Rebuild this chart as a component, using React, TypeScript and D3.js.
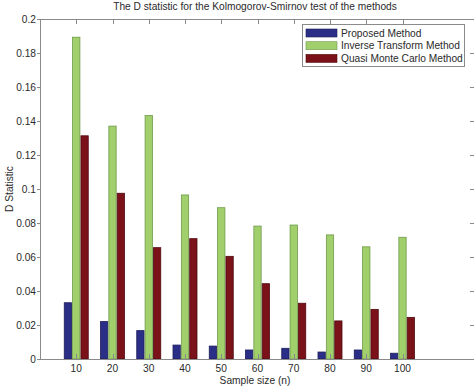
import React, { useEffect, useRef } from "react";
import * as d3 from "d3";

const sampleSizes = [10, 20, 30, 40, 50, 60, 70, 80, 90, 100];
const seriesNames = ["Proposed Method", "Inverse Transform Method", "Quasi Monte Carlo Method"];
const proposed = [0.0331, 0.022, 0.0167, 0.0082, 0.0076, 0.0053, 0.0063, 0.0041, 0.0053, 0.0034];
const inverse = [0.1893, 0.137, 0.1432, 0.0965, 0.089, 0.0782, 0.0788, 0.073, 0.066, 0.0716];
const quasi = [0.1313, 0.0975, 0.0655, 0.0708, 0.0604, 0.0443, 0.0328, 0.0224, 0.0292, 0.0245];
const yTicks = [0, 0.02, 0.04, 0.06, 0.08, 0.1, 0.12, 0.14, 0.16, 0.18, 0.2];

const fills = ["#2b2e86", "#a0cf6c", "#7b1219"];
const strokes = ["#1c1d5a", "#6f9a4b", "#4e0a0f"];

const App = () => {
  const svgRef = useRef<SVGSVGElement>(null);

  useEffect(() => {
    const W = 474;
    const H = 388;
    const margin = { top: 19, right: -1, bottom: 29, left: 40 };
    const svg = d3.select(svgRef.current).attr("width", W).attr("height", H);
    svg.selectAll("*").remove();

    const x = d3.scaleLinear().domain([0, 120]).range([margin.left, W - margin.right]);
    const y = d3.scaleLinear().domain([0, 0.2]).range([H - margin.bottom, margin.top]);
    const inner = d3.scaleBand().domain(["0", "1", "2"]).range([-12, 12]).paddingInner(0.125);

    const font = "'Liberation Sans', Arial, sans-serif";
    const fs = 10.2;
    const axisColor = "#8a8a8a";
    const textColor = "#2a2a2a";

    const data = [proposed, inverse, quasi];

    // bars
    data.forEach((vals, s) => {
      svg
        .append("g")
        .selectAll("rect")
        .data(vals)
        .join("rect")
        .attr("x", (d, i) => x(sampleSizes[i]) + (inner(String(s)) as number))
        .attr("y", (d) => y(d))
        .attr("width", inner.bandwidth())
        .attr("height", (d) => y(0) - y(d))
        .attr("fill", fills[s])
        .attr("stroke", strokes[s])
        .attr("stroke-width", 0.8);
    });

    const x0 = x(0);
    const x1 = x(120);
    const yb = y(0);
    const yt = y(0.2);

    // axes box
    const box = svg.append("g").attr("stroke", axisColor).attr("stroke-width", 1).attr("fill", "none");
    box.append("line").attr("x1", x0).attr("x2", x1).attr("y1", yb + 0.5).attr("y2", yb + 0.5);
    box.append("line").attr("x1", x0).attr("x2", x1).attr("y1", yt + 0.5).attr("y2", yt + 0.5);
    box.append("line").attr("x1", x0 + 0.5).attr("x2", x0 + 0.5).attr("y1", yt).attr("y2", yb);
    box.append("line").attr("x1", x1 - 0.5).attr("x2", x1 - 0.5).attr("y1", yt).attr("y2", yb);

    // y ticks
    yTicks.forEach((t) => {
      const yy = Math.round(y(t)) + 0.5;
      box.append("line").attr("x1", x0 - 3).attr("x2", x0).attr("y1", yy).attr("y2", yy);
      box.append("line").attr("x1", x1 - 5).attr("x2", x1).attr("y1", yy).attr("y2", yy);
      svg
        .append("text")
        .attr("x", x0 - 4)
        .attr("y", y(t))
        .attr("dy", "0.35em")
        .attr("text-anchor", "end")
        .attr("font-family", font)
        .attr("font-size", fs)
        .attr("fill", textColor)
        .text(d3.format("")(t));
    });

    // x ticks
    sampleSizes.forEach((n) => {
      const xx = Math.round(x(n)) + 0.5;
      box.append("line").attr("x1", xx).attr("x2", xx).attr("y1", yt).attr("y2", yt + 5);
      box.append("line").attr("x1", xx).attr("x2", xx).attr("y1", yb - 5).attr("y2", yb);
      svg
        .append("text")
        .attr("x", x(n))
        .attr("y", yb + 13)
        .attr("text-anchor", "middle")
        .attr("font-family", font)
        .attr("font-size", fs)
        .attr("fill", textColor)
        .text(n);
    });

    // title and labels
    svg
      .append("text")
      .attr("x", 255)
      .attr("y", 10)
      .attr("text-anchor", "middle")
      .attr("font-family", font)
      .attr("font-size", fs)
      .attr("fill", textColor)
      .text("The D statistic for the Kolmogorov-Smirnov test of the methods");

    svg
      .append("text")
      .attr("x", 255)
      .attr("y", 384)
      .attr("text-anchor", "middle")
      .attr("font-family", font)
      .attr("font-size", fs)
      .attr("fill", textColor)
      .text("Sample size (n)");

    svg
      .append("text")
      .attr("transform", `translate(13, ${(yt + yb) / 2}) rotate(-90)`)
      .attr("text-anchor", "middle")
      .attr("font-family", font)
      .attr("font-size", fs)
      .attr("fill", textColor)
      .text("D Statistic");

    // legend
    const lg = svg.append("g").attr("transform", "translate(302, 24)");
    lg.append("rect")
      .attr("x", 0.5)
      .attr("y", 0.5)
      .attr("width", 162)
      .attr("height", 42)
      .attr("fill", "#fff")
      .attr("stroke", axisColor);
    seriesNames.forEach((name, i) => {
      const row = lg.append("g").attr("transform", `translate(0, ${5 + i * 12.7})`);
      row
        .append("rect")
        .attr("x", 4)
        .attr("y", 0)
        .attr("width", 31)
        .attr("height", 8)
        .attr("fill", fills[i])
        .attr("stroke", strokes[i])
        .attr("stroke-width", 0.6);
      row
        .append("text")
        .attr("x", 39)
        .attr("y", 4)
        .attr("dy", "0.35em")
        .attr("font-family", font)
        .attr("font-size", fs)
        .attr("fill", textColor)
        .text(name);
    });
  }, []);

  return <svg ref={svgRef} style={{ position: "absolute", left: 0, top: 0 }}></svg>;
};

export default App;
